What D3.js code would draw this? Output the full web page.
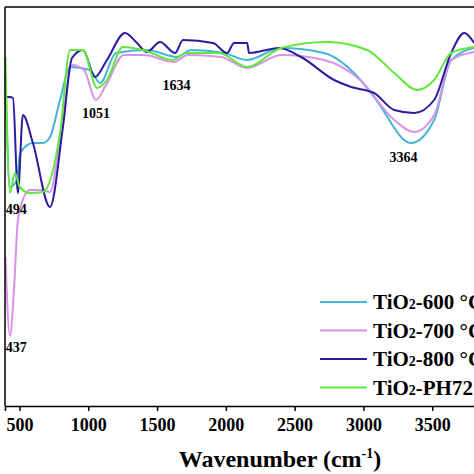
<!DOCTYPE html>
<html><head><meta charset="utf-8">
<script src="https://cdn.jsdelivr.net/npm/d3@7"></script>
<style>body{margin:0;background:#fff}svg{display:block}text{font-family:"Liberation Serif","DejaVu Serif",serif;font-weight:bold}</style>
</head><body><svg id="c" width="474" height="474"></svg>
<script>
// wavenumber (cm-1) and arbitrary transmittance
const wn600 = [398,431,482,505,598,671,722,795,868,1013,1086,1202,1427,1645,1747,1987,2155,2402,2714,2932,3078,3347,3514,3638,3805];
const t600 = [330,219,226,253,263,263,269,306,339,336,323,353,356,349,356,353,346,358,353,333,309,263,286,346,358];
const wn700 = [398,431,460,489,540,576,649,722,795,882,969,1056,1129,1260,1405,1623,1725,1965,2155,2402,2714,2976,3224,3369,3514,3638,3805];
const t700 = [149,70,116,186,211,216,216,214,266,341,336,306,321,351,351,344,351,349,338,351,346,326,286,274,291,346,354];
const wn800 = [398,431,453,489,525,598,722,816,882,962,1049,1136,1267,1355,1427,1522,1631,1689,1907,2009,2060,2155,2169,2387,2547,2787,2911,3078,3224,3369,3514,3638,3733,3805];
const t800 = [309,309,308,213,291,263,199,279,348,356,329,346,373,363,354,364,353,366,363,353,363,363,353,358,349,326,319,313,296,293,306,353,373,363];
const wnPH = [398,431,467,503,576,671,795,868,962,1064,1136,1253,1398,1616,1711,1951,2155,2402,2736,3027,3224,3391,3514,3638,3805];
const tPH = [349,213,233,219,213,214,273,356,356,318,326,359,356,346,353,353,339,358,364,356,333,316,326,353,359];

const series = [
  { name: "600 °C", x: wn600, y: t600, color: "#45b5d6" },
  { name: "700 °C", x: wn700, y: t700, color: "#d892e6" },
  { name: "800 °C", x: wn800, y: t800, color: "#2b1c9e" },
  { name: "PH72", x: wnPH, y: tPH, color: "#5fe83c" }
];
const xTicks = [500, 1000, 1500, 2000, 2500, 3000, 3500];
const peaks = [
  { label: "494", x: 400, y: 192 },
  { label: "437", x: 400, y: 54 },
  { label: "1051", x: 955, y: 288 },
  { label: "1634", x: 1540, y: 316 },
  { label: "3364", x: 3190, y: 244 }
];

const svg = d3.select("#c");
const x = d3.scaleLinear().domain([395, 4000]).range([5, 501]);
const y = d3.scaleLinear().domain([0, 399]).range([406, 7]);

const line = d3.line().x(d => x(d[0])).y(d => y(d[1])).curve(d3.curveMonotoneX);
series.forEach(s => {
  svg.append("path")
    .datum(s.x.map((v, i) => [v, s.y[i]]))
    .attr("d", line)
    .attr("fill", "none")
    .attr("stroke", s.color)
    .attr("stroke-width", 2);
});

// frame
svg.append("line").attr("x1", 5).attr("x2", 474).attr("y1", 7).attr("y2", 7).attr("stroke", "#000").attr("stroke-width", 1.5);
svg.append("line").attr("x1", 5).attr("x2", 5).attr("y1", 7).attr("y2", 406).attr("stroke", "#000").attr("stroke-width", 1.5);

const xAxis = svg.append("g")
  .attr("transform", "translate(0,406)")
  .call(d3.axisBottom(x).tickValues(xTicks).tickSize(5).tickPadding(7).tickFormat(d3.format("d")));
xAxis.select(".domain").attr("stroke-width", 1.5);
xAxis.selectAll(".tick line").attr("stroke-width", 1.5);
xAxis.selectAll("text").attr("font-size", 18).attr("fill", "#000");

svg.append("text").attr("x", 280).attr("y", 467).attr("text-anchor", "middle")
  .attr("font-size", 24).text("Wavenumber (cm").append("tspan").attr("dy", -9).attr("font-size", 14).text("-1")
  .select(function () { return this.parentNode; }).append("tspan").attr("dy", 9).attr("font-size", 24).text(")");

peaks.forEach(p => {
  svg.append("text").attr("x", x(p.x)).attr("y", y(p.y)).attr("font-size", 14).text(p.label);
});

const leg = svg.append("g");
series.forEach((s, i) => {
  const ly = 302 + i * 28.5;
  leg.append("line").attr("x1", 320).attr("x2", 367).attr("y1", ly).attr("y2", ly)
    .attr("stroke", s.color).attr("stroke-width", 2);
  const t = leg.append("text").attr("x", 373).attr("y", ly + 7).attr("font-size", 21);
  t.append("tspan").text("TiO");
  t.append("tspan").attr("font-size", 14).text("2");
  t.append("tspan").text("-" + s.name);
});
</script></body></html>
